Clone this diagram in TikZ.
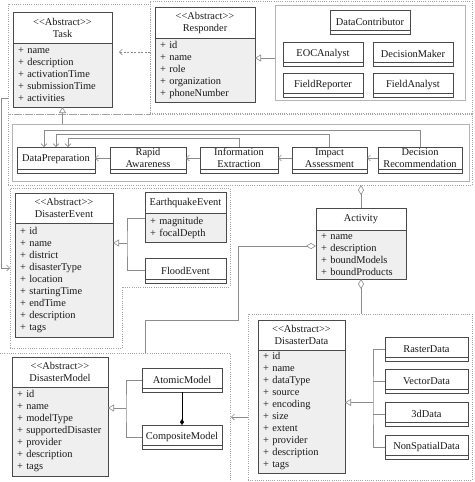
\documentclass[tikz,border=0pt]{standalone}
\usepackage{fontspec}
\setmainfont{Liberation Serif}
\usetikzlibrary{arrows.meta,positioning,calc}
\definecolor{BoxLine}{HTML}{4A4A4A}
\definecolor{AttrFill}{HTML}{EFEFEF}
\definecolor{LinkGray}{HTML}{8C8C8C}
\definecolor{GroupGray}{HTML}{A3A3A3}
\definecolor{FrameGray}{HTML}{B4B4B4}
\newcommand{\abstr}{\textless\kern0pt\textless Abstract\textgreater\kern0pt\textgreater}

\begin{document}
\begin{tikzpicture}[x=1pt, y=-1pt, font=\fontsize{10.4}{12}\selectfont, text=black!90,
  hd/.style={draw=BoxLine, fill=white, line width=0.8pt, align=center, anchor=north west, inner sep=2pt, outer sep=0pt},
  attrs/.style={draw=BoxLine, fill=AttrFill, line width=0.8pt, align=left, anchor=north west, inner xsep=5pt, inner ysep=2pt, outer sep=0pt, text width=#1},
  sub/.style={hd, minimum width=80pt, minimum height=24pt,
    path picture={\draw[BoxLine, line width=0.6pt] ([yshift=3.5pt]path picture bounding box.south west) -- ([yshift=3.5pt]path picture bounding box.south east);}},
  stage/.style={sub, minimum height=26pt, inner ysep=0.5pt, text depth=4pt},
  grp/.style={draw=GroupGray, line width=0.7pt, dash pattern=on 1pt off 1.2pt, anchor=north west, inner sep=0pt, outer sep=0pt},
  kindbox/.style={draw=FrameGray, line width=0.7pt, anchor=north west, inner sep=0pt, outer sep=0pt},
  wire/.style={draw=LinkGray, line width=0.6pt},
  gen/.style={wire, -{Triangle[length=6pt, width=7pt, fill=white]}},
  flow/.style={wire, -{Straight Barb[length=3pt, width=6pt]}},
  dep/.style={flow, dash pattern=on 2pt off 1.5pt},
  agg/.style={wire, -{Diamond[length=10pt, width=6pt, fill=white]}},
  compo/.style={draw=black, line width=0.6pt, -{Diamond[length=6pt, width=4pt]}}]
  \useasboundingbox (0,0) rectangle (474,482);

  % dotted groups
  \node[grp, minimum width=142pt, minimum height=110pt] (taskgrp) at (8,4) {};
  \node[grp, minimum width=322pt, minimum height=112pt] (respgrp) at (150,1) {};
  \node[grp, minimum width=464pt, minimum height=71pt] (procgrp) at (8,114) {};
  \node[grp, draw=none, minimum width=220pt, minimum height=160pt] (eventgrp) at (10,188) {};
  \node[grp, draw=none, minimum width=230pt, minimum height=129pt] (modelgrp) at (0,353) {};
  \node[grp, minimum width=224pt, minimum height=166pt] (datagrp) at (248,314) {};
  \draw[grp] (eventgrp.south west) |- (eventgrp.north east) |- (122,287) |- (eventgrp.south west);
  \draw[grp] (modelgrp.north west) -- (modelgrp.north east) -- (modelgrp.south east);
  \node[kindbox, minimum width=190pt, minimum height=95pt] (respkinds) at (275,5) {};
  \node[kindbox, minimum width=457pt, minimum height=57pt] (procbox) at (12,124) {};

  % task and responders
  \node[hd, minimum width=99pt, minimum height=31pt] (task) at (13,12) {\abstr\\Task};
  \node[attrs=89pt, minimum height=64pt] (taskA) at (task.south west) {+ name\\+ description\\+ activationTime\\+ submissionTime\\+ activities};
  \node[hd, minimum width=100pt, minimum height=31pt] (resp) at (155,7) {\abstr\\Responder};
  \node[attrs=90pt, minimum height=64pt] (respA) at (resp.south west) {+ id\\+ name\\+ role\\+ organization\\+ phoneNumber};
  \foreach \id/\x/\y/\lab in {contrib/330/10/DataContributor, eoc/283/42/EOCAnalyst, maker/373/42/DecisionMaker, reporter/283/73/FieldReporter, analyst/373/73/FieldAnalyst}
    \node[sub] (\id) at (\x,\y) {\lab};
  \draw[gen] ([yshift=-5.5pt]respkinds.west) -- ([yshift=-5.5pt]respkinds.west -| respA.east);
  \draw[dep, shorten >=7pt] ([yshift=-9pt]taskA.north east -| respgrp.west) -- ([yshift=-9pt]taskA.north east);

  % process chain
  \foreach \id/\x/\w/\lab in {prep/17/78/DataPreparation, rapid/110/76/{Rapid\\Awareness}, info/200/78/{Information\\Extraction}, impact/292/75/{Impact\\Assessment}, decide/378/84/{Decision\\Recommendation}}
    \node[stage, minimum width=\w pt] (\id) at (\x,147) {\lab};
  \foreach \a/\b in {rapid/prep, info/rapid, impact/info, decide/impact}
    \draw[flow] ([yshift=2pt]\a.west) -- ([yshift=2pt]\b.east);
  \draw[flow] (info.north) -- ++(0,-9) -| ([xshift=12pt]prep.north);
  \draw[flow] (impact.north) -- ++(0,-13) -| (prep.north);
  \draw[flow] (decide.north) -- ++(0,-17) -| ([xshift=-12pt]prep.north);
  \draw[gen] (procbox.north -| taskA.south) -- (taskA.south);

  % events
  \node[hd, minimum width=98pt, minimum height=30pt] (event) at (15,193) {\abstr\\DisasterEvent};
  \node[attrs=88pt, minimum height=114pt] (eventA) at (event.south west) {+ id\\+ name\\+ district\\+ disasterType\\+ location\\+ startingTime\\+ endTime\\+ description\\+ tags};
  \node[hd, minimum width=81pt, minimum height=21pt] (quake) at (145,192) {EarthquakeEvent};
  \node[attrs=71pt, minimum height=29pt] (quakeA) at (quake.south west) {+ magnitude\\+ focalDepth};
  \node[sub, minimum width=81pt, minimum height=25pt] (flood) at (145,258) {FloodEvent};
  \coordinate (evbus) at ($(eventA.north east)+(14,20)$);
  \draw[gen] (evbus) -- (evbus -| eventA.east);
  \draw[wire] (flood.west) -| (evbus) |- ($(quakeA.north west)+(0,5)$);
  \coordinate (evin) at ($(eventgrp.south west)+(0,-80)$);
  \draw[flow] ([yshift=16pt]taskgrp.south west) -- ++(-7,0) |- (evin);

  % activity
  \node[hd, minimum width=90pt, minimum height=22pt] (act) at (316,208) {Activity};
  \node[attrs=80pt, minimum height=49pt] (actA) at (act.south west) {+ name\\+ description\\+ boundModels\\+ boundProducts};
  \draw[agg] (act.north) -- (act.north |- procgrp.south);
  \draw[agg] ([xshift=145pt]modelgrp.north west) |- (238,320) |- ($(actA.north west)+(0,16)$);
  \draw[agg] (datagrp.north -| actA.south) -- (actA.south);

  % data
  \node[hd, minimum width=87pt, minimum height=30pt] (data) at (258,320) {\abstr\\DisasterData};
  \node[attrs=77pt, minimum height=123pt] (dataA) at (data.south west) {+ id\\+ name\\+ dataType\\+ source\\+ encoding\\+ size\\+ extent\\+ provider\\+ description\\+ tags};
  \foreach \id/\y/\lab in {raster/337/RasterData, vector/369/VectorData, threed/402/3dData, nonspatial/435/NonSpatialData}
    \node[sub, minimum width=83pt] (\id) at (385,\y) {\lab};
  \coordinate (databus) at ($(dataA.east)+(28,-9)$);
  \draw[gen] (databus) -- (databus -| dataA.east);
  \draw[wire] (raster.west) -| (databus) |- (nonspatial.west);
  \draw[wire] (vector.west) -- (vector.west -| databus);
  \draw[wire] (threed.west) -- (threed.west -| databus);
  \coordinate (dataout) at ($(datagrp.west)+(0,20)$);
  \draw[flow, shorten >=1pt] (dataout) -- (dataout -| modelgrp.east);

  % models
  \node[hd, minimum width=96pt, minimum height=30pt] (model) at (12,357) {\abstr\\DisasterModel};
  \node[attrs=86pt, minimum height=89pt] (modelA) at (model.south west) {+ id\\+ name\\+ modelType\\+ supportedDisaster\\+ provider\\+ description\\+ tags};
  \node[sub] (atomic) at (142,368) {AtomicModel};
  \node[sub] (composite) at (142,425) {CompositeModel};
  \draw[compo] (atomic.south) -- (composite.north);
  \coordinate (modelbus) at ($(modelA.east)+(18,-23.5)$);
  \draw[gen] (modelbus) -- (modelbus -| modelA.east);
  \draw[wire] (atomic.west) -| (modelbus) |- (composite.west);
\end{tikzpicture}
\end{document}
